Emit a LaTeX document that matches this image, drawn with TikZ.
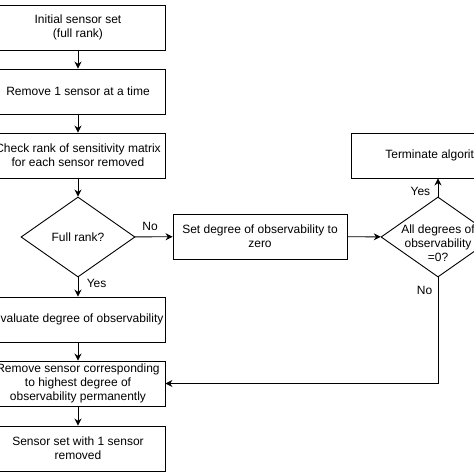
\documentclass[tikz,border=0pt]{standalone}
\usepackage{fontspec}
\setmainfont{Liberation Sans}
\usetikzlibrary{shapes.geometric, arrows.meta}

\begin{document}
\begin{tikzpicture}[x=1pt, y=-1pt,
    font=\fontsize{12}{14}\selectfont,
    process/.style={rectangle, draw, line width=0.9pt, fill=white, align=center,
      minimum width=174pt, minimum height=45pt, inner sep=0pt},
    decision/.style={diamond, draw, line width=0.9pt, fill=white, inner sep=0pt,
      minimum width=114pt, minimum height=80pt},
    flow/.style={line width=0.9pt, -{Stealth[length=7pt, width=7pt]}}]
  \path[use as bounding box, clip] (0,0) rectangle (474,474);

  % Define boxes
  \node[process] (init) at (78,27.5) {Initial sensor set\\(full rank)};
  \node[process] (remove) at (78,91.5) {Remove 1 sensor at a time};
  \node[process] (check) at (78,155.5) {Check rank of sensitivity matrix\\for each sensor removed};
  \node[decision] (full) at (78,237) {Full rank?};
  \node[process] (zero) at (260,236.5) {Set degree of observability to\\zero};
  \node[decision, label={[align=center, yshift=-6pt]center:{All degrees of\\observability\\=0?}}] (alldeg) at (438,237) {};
  \node[process] (term) at (438,155.5) {Terminate algorithm};
  \node[process] (evaluate) at (78,319.5) {Evaluate degree of observability};
  \node[process] (perm) at (78,383.5) {Remove sensor corresponding\\to highest degree of\\observability permanently};
  \node[process] (final) at (78,448.5) {Sensor set with 1 sensor\\removed};

  % Draw arrows
  \draw[flow] (init) -- (remove);
  \draw[flow] (remove) -- (check);
  \draw[flow] (check) -- (full);
  \draw[flow] (full) -- node[pos=0.4, above=2pt] {No} (zero);
  \draw[flow] (full) -- node[pos=0.3, right=5pt] {Yes} (evaluate);
  \draw[flow] (zero) -- (alldeg);
  \draw[flow] (alldeg) -- node[pos=0.3, left=4pt] {Yes} (term);
  \draw[flow] (alldeg.south) |- node[pos=0.06, left=2pt] {No} (perm.east);
  \draw[flow] (evaluate) -- (perm);
  \draw[flow] (perm) -- (final);

\end{tikzpicture}
\end{document}
